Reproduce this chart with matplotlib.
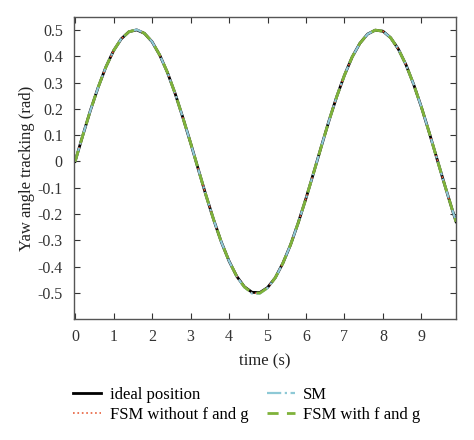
import numpy as np
import matplotlib
matplotlib.use('Agg')
import matplotlib.pyplot as plt

plt.rcParams['font.family'] = ['Liberation Serif', 'DejaVu Serif']

# values (time in s, yaw angle in rad)
time_s = [0.0, 0.2, 0.4, 0.6, 0.8, 1.0, 1.2, 1.4, 1.6, 1.8,
          2.0, 2.2, 2.4, 2.6, 2.8, 3.0, 3.2, 3.4, 3.6, 3.8,
          4.0, 4.2, 4.4, 4.6, 4.8, 5.0, 5.2, 5.4, 5.6, 5.8,
          6.0, 6.2, 6.4, 6.6, 6.8, 7.0, 7.2, 7.4, 7.6, 7.8,
          8.0, 8.2, 8.4, 8.6, 8.8, 9.0, 9.2, 9.4, 9.6, 9.8, 9.9]
ideal = [0.0, 0.099, 0.195, 0.282, 0.359, 0.421, 0.466, 0.493, 0.500, 0.487,
         0.455, 0.404, 0.338, 0.258, 0.167, 0.071, -0.029, -0.128, -0.221, -0.306,
         -0.378, -0.436, -0.476, -0.497, -0.498, -0.479, -0.442, -0.386, -0.316, -0.232,
         -0.140, -0.042, 0.058, 0.156, 0.247, 0.328, 0.397, 0.449, 0.484, 0.499,
         0.495, 0.470, 0.427, 0.367, 0.292, 0.206, 0.111, 0.012, -0.087, -0.183, -0.229]
# the tracking curves sit on top of the reference one
fsm_no_fg = [0.0, 0.099, 0.195, 0.282, 0.359, 0.421, 0.466, 0.493, 0.501, 0.488,
             0.455, 0.404, 0.338, 0.258, 0.167, 0.071, -0.029, -0.128, -0.221, -0.306,
             -0.378, -0.436, -0.477, -0.500, -0.501, -0.480, -0.442, -0.386, -0.316, -0.232,
             -0.140, -0.042, 0.058, 0.156, 0.247, 0.328, 0.397, 0.449, 0.484, 0.499,
             0.495, 0.470, 0.427, 0.367, 0.292, 0.206, 0.111, 0.012, -0.087, -0.183, -0.229]
sm = [0.0, 0.099, 0.195, 0.282, 0.359, 0.421, 0.466, 0.493, 0.501, 0.488,
      0.455, 0.404, 0.338, 0.258, 0.167, 0.071, -0.029, -0.128, -0.221, -0.306,
      -0.378, -0.437, -0.478, -0.502, -0.502, -0.481, -0.443, -0.386, -0.316, -0.232,
      -0.140, -0.042, 0.058, 0.156, 0.247, 0.328, 0.397, 0.449, 0.484, 0.499,
      0.495, 0.470, 0.427, 0.367, 0.292, 0.206, 0.111, 0.012, -0.087, -0.183, -0.229]
fsm_fg = [0.0, 0.099, 0.195, 0.282, 0.359, 0.421, 0.466, 0.493, 0.500, 0.487,
          0.455, 0.404, 0.338, 0.258, 0.167, 0.071, -0.029, -0.128, -0.221, -0.306,
          -0.378, -0.436, -0.477, -0.499, -0.500, -0.480, -0.442, -0.386, -0.316, -0.232,
          -0.140, -0.042, 0.058, 0.156, 0.247, 0.328, 0.397, 0.449, 0.484, 0.499,
          0.495, 0.470, 0.427, 0.367, 0.292, 0.206, 0.111, 0.012, -0.087, -0.183, -0.229]

x_ticks = [0, 1, 2, 3, 4, 5, 6, 7, 8, 9]
y_ticks = [-0.5, -0.4, -0.3, -0.2, -0.1, 0, 0.1, 0.2, 0.3, 0.4, 0.5]
y_labels = ['-0.5', '-0.4', '-0.3', '-0.2', '-0.1', '0', '0.1', '0.2', '0.3', '0.4', '0.5']

fig = plt.figure(figsize=(4.74, 4.4), dpi=100)
ax = fig.add_axes([0.156, 0.274, 0.807, 0.688])

ax.plot(time_s, ideal, c='black', lw=2.0, label='ideal position')
ax.plot(time_s, fsm_no_fg, c='#e8603c', lw=1.2, ls=':', label='FSM without f and g')
ax.plot(time_s, sm, c='#8ec9d6', lw=1.6, ls='-.', label='SM')
ax.plot(time_s, fsm_fg, c='#7fb23a', lw=2.0, ls=(0, (4, 3)), label='FSM with f and g')

ax.set_xlim(-0.03, 9.91)
ax.set_ylim(-0.6, 0.55)
ax.set_xticks(x_ticks)
ax.set_yticks(y_ticks)
ax.set_yticklabels(y_labels)
ax.tick_params(direction='in', top=True, right=True, length=4, width=0.8,
               labelsize=11.5, colors='#333333')
ax.tick_params(axis='y', pad=8)
ax.tick_params(axis='x', pad=7)
for s in ax.spines.values():
    s.set_color('#555555')
    s.set_linewidth(1.0)
ax.set_xlabel('time (s)', fontsize=12, color='#222222', labelpad=6)
ax.set_ylabel('Yaw angle tracking (rad)', fontsize=12, color='#222222', labelpad=2)

fig.legend(loc='upper left', bbox_to_anchor=(73 / 474, 1 - 387 / 440), ncol=2,
           frameon=False, fontsize=12, handlelength=1.7, handletextpad=0.5,
           columnspacing=1.1, labelspacing=0.22, borderpad=0, borderaxespad=0)

fig.savefig('out.png', dpi=100)
